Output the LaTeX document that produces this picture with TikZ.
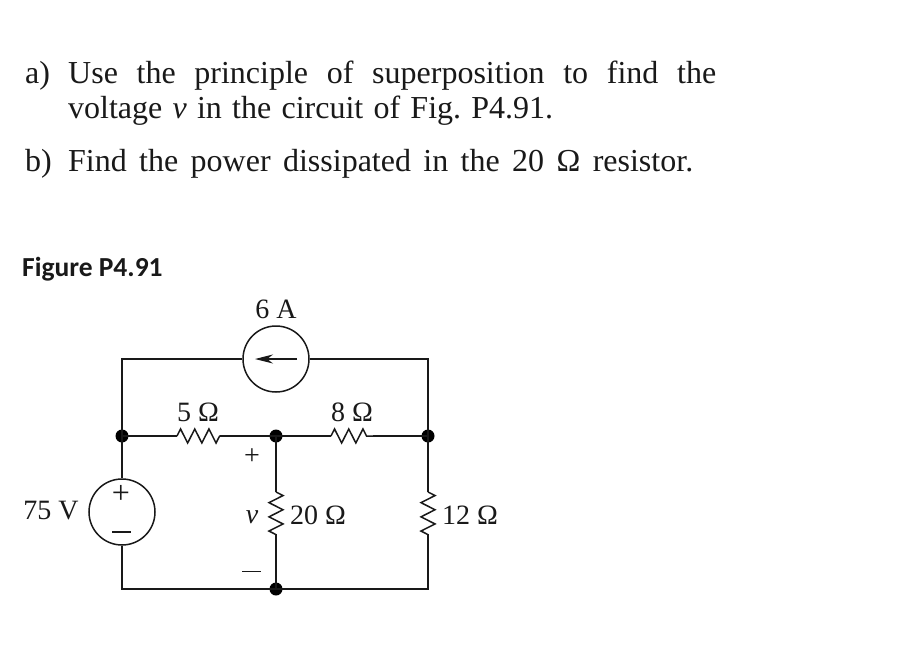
\documentclass[tikz,border=0pt]{standalone}
\usepackage{fontspec}
\setmainfont{Liberation Serif}
\newfontfamily\figfont{Carlito}
\usetikzlibrary{decorations.pathmorphing,arrows.meta}
\tikzset{
  x=1pt,y=-1pt,
  wire/.style={line width=1.5pt,black!90},
  res/.style={line width=1.5pt,black!90,line join=miter,decorate,decoration={zigzag,segment length=14.2pt,amplitude=7pt}},
  dotnode/.style={circle,fill=black,inner sep=0pt,minimum size=13pt},
  source/.style={circle,draw=black!90,line width=1.5pt,inner sep=0pt,minimum size=66pt},
  body/.style={anchor=base west,inner sep=0pt,font=\fontsize{32}{32}\selectfont,text=black!90},
  lab/.style={inner sep=0pt,font=\fontsize{28}{28}\selectfont,text=black!90},
  figlab/.style={anchor=base west,inner sep=0pt,font=\figfont\bfseries\fontsize{27.5}{27.5}\selectfont,text=black!90}
}
\frenchspacing
\begin{document}
\begin{tikzpicture}
\useasboundingbox (0,0) rectangle (906,648);
\fill[white] (0,0) rectangle (906,648);
% text
\node[body] (ta) at (25,83) {a)};
\node[body] (t1) at (68,83) {\makebox[648pt][s]{Use the principle of superposition to find the}};
\node[body] (t2) at (68,118) {\makebox[485pt][s]{voltage \textit{v} in the circuit of Fig. P4.91.}};
\node[body] (tb) at (25,171) {b)};
\node[body] (t3) at (68,171) {\makebox[625pt][s]{Find the power dissipated in the 20 Ω resistor.}};
\node[figlab] (fig) at (22,276) {Figure P4.91};
% junctions
\coordinate (tl) at (122,359);
\coordinate (tr) at (428,359);
\coordinate (bl) at (122,589);
\coordinate (br) at (428,589);
\node[dotnode] (nl) at (122,436) {};
\node[dotnode] (nm) at (276,436) {};
\node[dotnode] (nr) at (428,436) {};
\node[dotnode] (nb) at (276,589) {};
\node[source] (cs) at (276,359) {};
\node[source] (vs) at (122,512) {};
% resistor ends
\coordinate (r5a) at (177,436);
\coordinate (r5b) at (220,436);
\coordinate (r8a) at (331,436);
\coordinate (r8b) at (373,436);
\coordinate (r20a) at (276,492);
\coordinate (r20b) at (276,535);
\coordinate (r12a) at (428,492);
\coordinate (r12b) at (428,535);
% wires
\draw[wire] (cs.west) -- (tl) -- (nl.center) -- (vs.north);
\draw[wire] (cs.east) -- (tr) -- (nr.center) -- (r12a);
\draw[wire] (r12b) -- (br) -- (nb.center) -- (r20b);
\draw[wire] (r20a) -- (nm.center);
\draw[wire] (vs.south) -- (bl) -- (nb.center);
\draw[wire] (nl.center) -- (r5a);
\draw[wire] (r5b) -- (nm.center) -- (r8a);
\draw[wire] (r8b) -- (nr.center);
\draw[res] (r5a) -- (r5b);
\draw[res] (r8a) -- (r8b);
\draw[res] (r20a) -- (r20b);
\draw[res] (r12a) -- (r12b);
% source marks
\coordinate (ar1) at (297,359);
\coordinate (ar2) at (255,359);
\draw[line width=1.1pt,black!90,-{Stealth[length=18pt,width=9pt]}] (ar1) -- (ar2);
\node[lab,font=\fontsize{32}{32}\selectfont] (vp) at (121,494) {+};
\coordinate (vm1) at (112,532);
\coordinate (vm2) at (131,532);
\draw[line width=1.8pt,black!90] (vm1) -- (vm2);
% labels
\node[lab] (l6) at (276,309) {6 A};
\node[lab] (l5) at (198,412) {5 Ω};
\node[lab] (l8) at (352,412) {8 Ω};
\node[lab] (l75) at (51,511) {75 V};
\node[lab] (l20) at (318,515) {20 Ω};
\node[lab] (l12) at (470,515) {12 Ω};
\node[lab] (lv) at (252,517) {\textit{v}};
\node[lab] (lp) at (252,457) {+};
\coordinate (lm1) at (242,571);
\coordinate (lm2) at (261,571);
\draw[line width=1pt,black!90] (lm1) -- (lm2);
\end{tikzpicture}
\end{document}
